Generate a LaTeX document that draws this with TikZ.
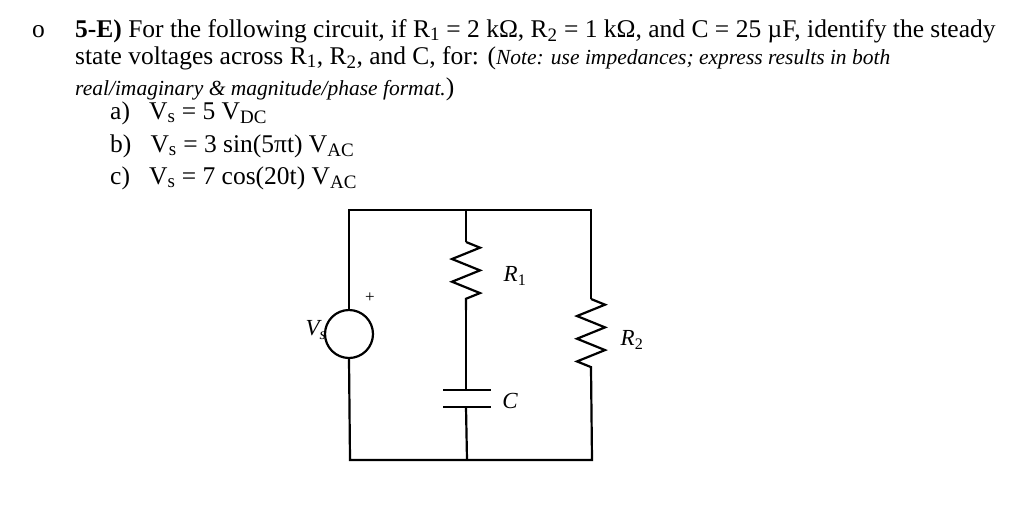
\documentclass[tikz,border=0pt]{standalone}
\usepackage{fontspec}
\setmainfont{Liberation Serif}
\usetikzlibrary{decorations.pathmorphing}
\begin{document}
\begin{tikzpicture}[x=1pt,y=-1pt,
  txt/.style={anchor=base west,inner sep=0pt,font=\fontsize{25.5}{30}\selectfont},
  wire/.style={line width=2.2pt},
  zig/.style={wire,decorate,decoration={zigzag,amplitude=14pt,segment length=22.7pt}},
  lab/.style={font=\fontsize{23}{26}\itshape\selectfont,inner sep=0pt}]
\useasboundingbox (0,0) rectangle (1024,504);
\newcommand{\sub}[1]{\textsubscript{\fontsize{19}{19}\selectfont #1}}
\newcommand{\nt}{\fontsize{21.5}{25}\selectfont}
\node[txt] (bul) at (32,37) {o};
\node[txt] (l1) at (75,37) {\textbf{5-E)} For the following circuit, if R\sub{1} = 2 kΩ, R\sub{2} = 1 kΩ, and C = 25 µF, identify the steady};
\node[txt] (l2) at (75,64) {state voltages across R\sub{1}, R\sub{2}, and C, for: (\textit{\nt Note: use impedances; express results in both}};
\node[txt] (l3) at (75,95) {\textit{\nt real/imaginary \& magnitude/phase format.})};
\node[txt] (a) at (110,119) {a)\hspace{0.5em} V\sub{s} = 5 V\sub{DC}};
\node[txt] (b) at (110,152) {b)\hspace{0.5em} V\sub{s} = 3 sin(5πt) V\sub{AC}};
\node[txt] (c) at (110,184) {c)\hspace{0.5em} V\sub{s} = 7 cos(20t) V\sub{AC}};
% circuit
\coordinate (tl) at (349,210); \coordinate (tm) at (466,210); \coordinate (tr) at (591,210);
\coordinate (bl) at (350,460); \coordinate (bm) at (467,460); \coordinate (br) at (592,460);
\node[draw,circle,line width=2.2pt,minimum size=48pt,inner sep=0pt] (src) at (349,334) {};
\coordinate (r1a) at (466,242); \coordinate (r1b) at (466,310);
\coordinate (r2a) at (591,299); \coordinate (r2b) at (591,368);
\coordinate (c1) at (466,390); \coordinate (c2) at (466,407);
\draw[wire] (src.north) -- (tl) -- (tm) -- (tr) -- (r2a);
\draw[wire] (src.south) -- (bl) -- (bm) -- (br) -- (r2b);
\draw[wire] (tm) -- (r1a); \draw[zig] (r1a) -- (r1b); \draw[wire] (r1b) -- (c1);
\draw[zig] (r2a) -- (r2b);
\draw[wire] (c2) -- (bm);
\draw[wire] (443,390) -- (491,390); \draw[wire] (443,407) -- (491,407);
\node[font=\fontsize{17}{17}\selectfont] (plus) at (370,298) {+};
\node[lab] (vs) at (316,330) {V\textsubscript{s}};
\node[lab] (lr1) at (515,276) {R\textsubscript{\upshape 1}};
\node[lab] (lr2) at (632,340) {R\textsubscript{\upshape 2}};
\node[lab] (lc) at (510,401) {C};
\end{tikzpicture}
\end{document}
